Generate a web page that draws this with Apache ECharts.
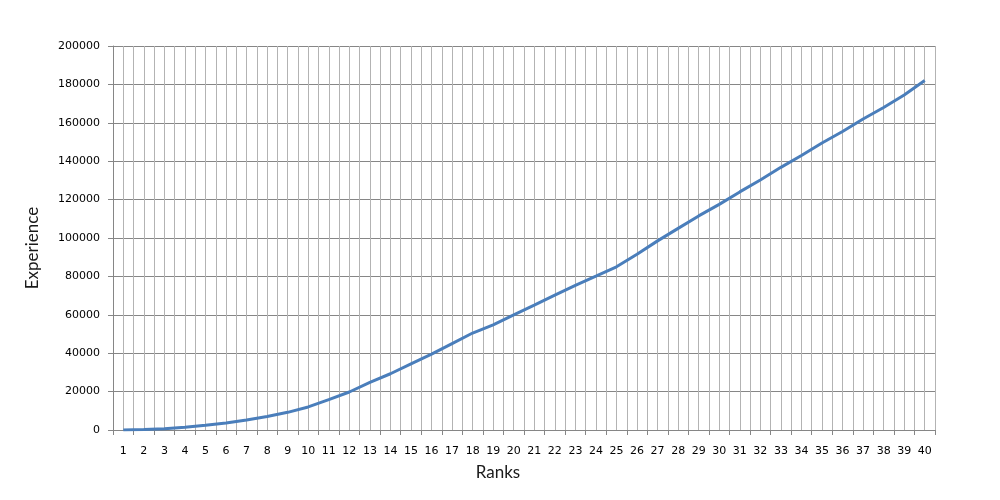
<!DOCTYPE html>
<html>
<head>
<meta charset="utf-8">
<script src="https://cdn.jsdelivr.net/npm/echarts@6/dist/echarts.min.js"></script>
<style>
  html, body { margin: 0; padding: 0; background: #fff; }
  #chart { width: 1000px; height: 500px; }
</style>
</head>
<body>
<div id="chart"></div>
<script>
let ranks = [];
for (let i = 1; i <= 40; i++) ranks.push(String(i));

let experience = [
  0, 200, 600, 1400, 2500, 3700, 5200, 7000, 9200, 12000,
  15800, 19800, 24800, 29300, 34400, 39500, 45000, 50500, 54800, 60000,
  65000, 70200, 75300, 80100, 85000, 91500, 98500, 105000, 111500, 117500,
  124000, 130200, 136800, 143000, 149500, 155500, 162000, 168000, 174500, 182000
];

let yMax = 200000;
let yStep = 20000;

let axisGray = '#868686';
let gridGray = '#b3b3b3';
let tickFont = { fontFamily: 'DejaVu Sans', fontSize: 11, color: '#000' };

let chart = echarts.init(document.getElementById('chart'));

let option = {
  animation: false,
  grid: { left: 113, right: 65, top: 46, bottom: 70 },
  xAxis: [
    {
      type: 'category',
      data: ranks,
      boundaryGap: true,
      name: 'Ranks',
      nameLocation: 'middle',
      nameGap: 34,
      nameTextStyle: { fontFamily: 'Lato', fontSize: 17, color: '#1a1a1a', padding: [0, 52, 0, 0] },
      axisLine: { lineStyle: { color: axisGray, width: 1 } },
      axisTick: { show: true, length: 5, lineStyle: { color: axisGray } },
      axisLabel: Object.assign({ margin: 16, interval: 0 }, tickFont),
      splitLine: { show: false }
    },
    {
      // half-category gridlines (boundaries and centres)
      type: 'value',
      min: 0,
      max: ranks.length * 2,
      interval: 1,
      position: 'bottom',
      axisLine: { show: false },
      axisTick: { show: false },
      axisLabel: { show: false },
      splitLine: { show: true, lineStyle: { color: gridGray, width: 1 } }
    }
  ],
  yAxis: {
    type: 'value',
    min: 0,
    max: yMax,
    interval: yStep,
    name: 'Experience',
    nameLocation: 'middle',
    nameGap: 72,
    nameTextStyle: { fontFamily: 'Lato', fontSize: 17, color: '#1a1a1a', padding: [0, 20, 0, 0] },
    axisLine: { show: true, lineStyle: { color: axisGray, width: 1 } },
    axisTick: { show: true, length: 5, lineStyle: { color: axisGray } },
    axisLabel: Object.assign({ margin: 13, formatter: function (v) { return String(v); } }, tickFont),
    splitLine: { show: true, lineStyle: { color: axisGray, width: 1 } }
  },
  series: [
    {
      type: 'line',
      xAxisIndex: 0,
      data: experience,
      showSymbol: false,
      smooth: false,
      z: 5,
      lineStyle: { color: '#4a7ebb', width: 3 }
    }
  ]
};

chart.setOption(option);
</script>
</body>
</html>
